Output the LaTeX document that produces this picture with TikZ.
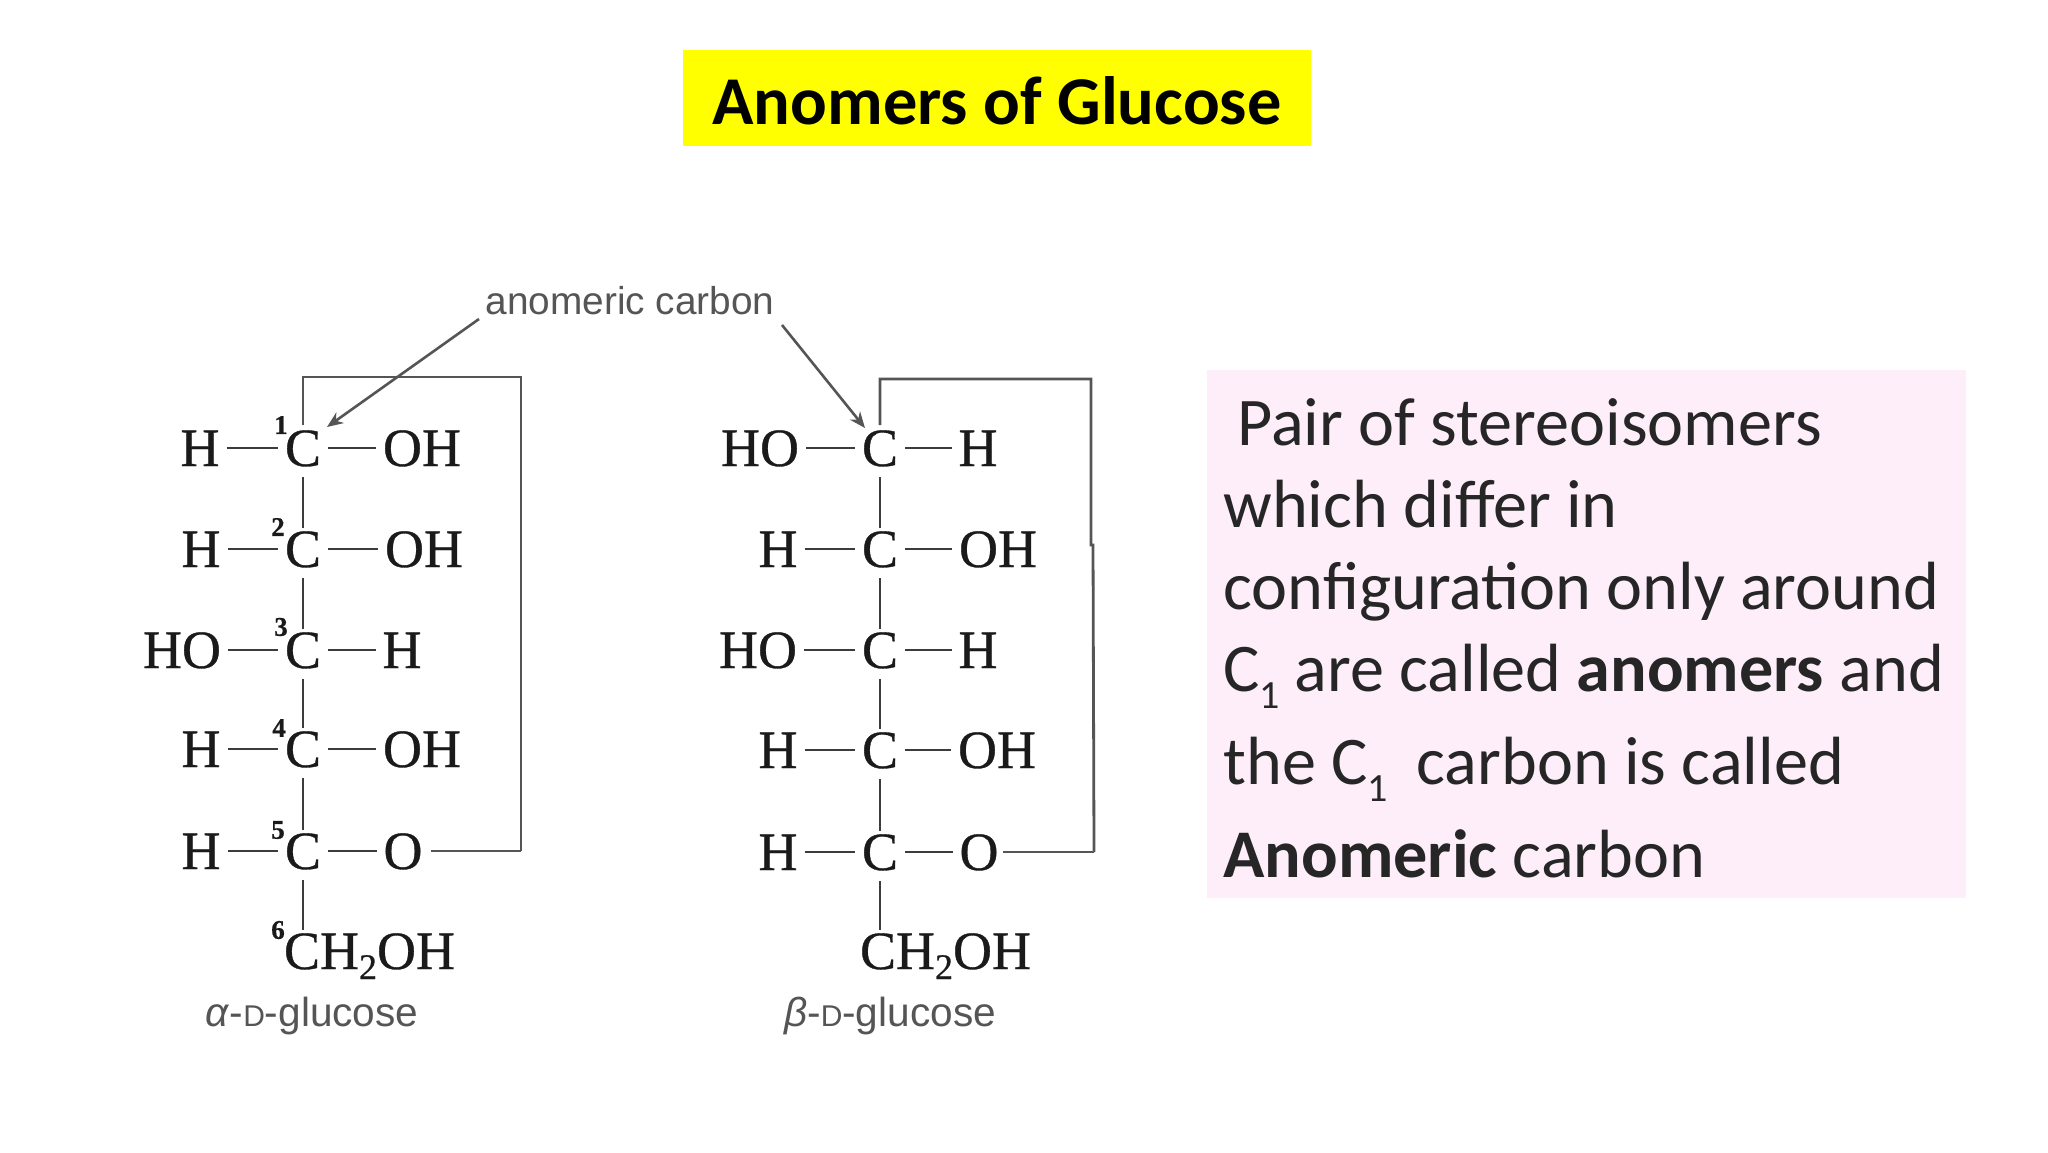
\documentclass[tikz,border=0pt]{standalone}
\usepackage{fontspec}
\setmainfont{Carlito}
\newfontfamily\chemfont[RawFeature={embolden=0.6}]{Liberation Serif}
\newfontfamily\labelfont{Liberation Sans}
\usetikzlibrary{arrows.meta}
\definecolor{ink}{HTML}{1A1A1A}
\definecolor{bondcol}{HTML}{3C3C3C}
\definecolor{ringcol}{HTML}{555555}
\definecolor{labelcol}{HTML}{555555}
\definecolor{bodycol}{HTML}{262626}
\definecolor{panel}{HTML}{FDEEFA}
\definecolor{titlebg}{HTML}{FFFF00}
\tikzset{
  atom/.style={font=\chemfont\fontsize{27pt}{27pt}\selectfont,text=ink,inner sep=0pt,outer sep=0pt,text height=18pt,text depth=0pt,anchor=center},
  cnum/.style={font=\chemfont\bfseries\fontsize{13.5pt}{13.5pt}\selectfont,text=ink,inner sep=0pt,anchor=center},
  hbond/.style={draw=bondcol,line width=1.3pt,shorten <=3.5pt,shorten >=3.5pt},
  vbond/.style={draw=bondcol,line width=1.3pt,shorten <=5.5pt,shorten >=1.5pt},
  ring/.style={draw=ringcol,line width=1.4pt,line join=miter},
  lead/.style={draw=ringcol,line width=1.3pt,-{Stealth[length=8pt,width=6.5pt]}},
  grey/.style={font=\labelfont\fontsize{19.4pt}{20pt}\selectfont,text=labelcol,inner sep=0pt,anchor=center},
  sugar/.style={font=\labelfont\fontsize{20.3pt}{20pt}\selectfont,text=labelcol,inner sep=0pt,anchor=center},
  body/.style={font=\fontsize{34.1pt}{34pt}\selectfont,text=bodycol,inner sep=0pt,anchor=base west},
}
\newcommand{\subone}{\raisebox{-8.5pt}{\fontsize{20pt}{20pt}\selectfont 1}}
\newcommand{\subtwo}{\raisebox{-5pt}{\fontsize{18pt}{18pt}\selectfont 2}}
\begin{document}
\begin{tikzpicture}[x=0.5pt,y=-0.5pt]
\fill[white] (0,0) rectangle (2048,1152);
\useasboundingbox (0,0) rectangle (2048,1152);
% title
\node[fill=titlebg,minimum width=314pt,minimum height=48pt,inner sep=0pt,text height=26pt,text depth=0pt,font=\bfseries\fontsize{34.2pt}{34pt}\selectfont,text=black] (title) at (997,98) {Anomers of Glucose};
% panel
\node[fill=panel,minimum width=379.5pt,minimum height=264pt,inner sep=0pt] (panel) at (1586.5,633.5) {};
\node[body] (l1) at (1237,445) {Pair of stereoisomers};
\node[body] (l2) at (1223,527) {which differ in};
\node[body] (l3) at (1223,609) {configuration only around};
\node[body] (l4) at (1223,691) {C\subone{}\hspace{-0.5pt} are called \textbf{anomers} and};
\node[body] (l5) at (1223,784) {the C\subone{}\hspace{6.5pt} carbon is called};
\node[body] (l6) at (1223,877) {\textbf{Anomeric} carbon};
% label on top
\node[grey] (anom) at (630,301) {anomeric carbon};
\coordinate (leadA) at (479,319);
\coordinate (leadB) at (782,325);
% alpha
\node[atom] (c1) at (303,448) {C};
\node[atom] (c2) at (303,549) {C};
\node[atom] (c3) at (303,650) {C};
\node[atom] (c4) at (303,749) {C};
\node[atom] (c5) at (303,851) {C};
\node[atom] (la) at (200,448) {H};
\node[atom] (lb) at (201,549) {H};
\node[atom] (lc) at (182,650) {HO};
\node[atom] (ld) at (201,749) {H};
\node[atom] (le) at (201,851) {H};
\node[atom] (ra) at (422,448) {OH};
\node[atom] (rb) at (424,549) {OH};
\node[atom] (rc) at (402,650) {H};
\node[atom] (rd) at (422,749) {OH};
\node[atom] (re) at (403,851) {O};
\node[atom,anchor=west] (ch) at (284,951) {CH\subtwo{}OH};
\node[cnum] (n1) at (281,425) {1};
\node[cnum] (n2) at (278,527) {2};
\node[cnum] (n3) at (281,627) {3};
\node[cnum] (n4) at (279,728) {4};
\node[cnum] (n5) at (278,830) {5};
\node[cnum] (n6) at (278,930) {6};
\node[sugar] (alab) at (312,1016) {\textit{α}-{\fontsize{15pt}{15pt}\selectfont D}-glucose};
\foreach \a/\b in {la/c1,lb/c2,lc/c3,ld/c4,le/c5,c1/ra,c2/rb,c3/rc,c4/rd,c5/re}
  \draw[hbond] (\a) -- (\b);
\foreach \a/\b in {c1/c2,c2/c3,c3/c4,c4/c5}
  \draw[vbond] (\a.south) -- (\b.north);
\draw[vbond] (c5.south) -- (c5.south |- ch.north);
\coordinate (ringA) at (521,377);
\coordinate (ringB) at (521,851);
\draw[ring,shorten <=2.5pt] (c1.north) |- (ringA) -- (ringB);
\draw[ring,shorten >=4pt] (ringB) -- (re);
\draw[lead] (leadA) -- ([shift={(6,-3)}]c1.north east);
% beta
\node[atom] (d1) at (880,448) {C};
\node[atom] (d2) at (880,549) {C};
\node[atom] (d3) at (880,650) {C};
\node[atom] (d4) at (880,750) {C};
\node[atom] (d5) at (880,852) {C};
\node[atom] (sa) at (760,448) {HO};
\node[atom] (sb) at (778,549) {H};
\node[atom] (sc) at (758,650) {HO};
\node[atom] (sd) at (778,750) {H};
\node[atom] (se) at (778,852) {H};
\node[atom] (ta) at (978,448) {H};
\node[atom] (tb) at (998,549) {OH};
\node[atom] (tc) at (978,650) {H};
\node[atom] (td) at (997,750) {OH};
\node[atom] (te) at (979,852) {O};
\node[atom,anchor=west] (dh) at (860,951) {CH\subtwo{}OH};
\node[sugar] (blab) at (890,1016) {\textit{β}-{\fontsize{15pt}{15pt}\selectfont D}-glucose};
\foreach \a/\b in {sa/d1,sb/d2,sc/d3,sd/d4,se/d5,d1/ta,d2/tb,d3/tc,d4/td,d5/te}
  \draw[hbond] (\a) -- (\b);
\foreach \a/\b in {d1/d2,d2/d3,d3/d4,d4/d5}
  \draw[vbond] (\a.south) -- (\b.north);
\draw[vbond] (d5.south) -- (d5.south |- dh.north);
\coordinate (ringC) at (1091,379);
\coordinate (ringD) at (1091,545);
\coordinate (ringE) at (1093,545);
\coordinate (ringF) at (1094,852);
\draw[ring,shorten <=2.5pt] (d1.north) |- (ringC) -- (ringD) -- (ringE) -- (ringF);
\draw[ring,shorten >=2pt] (ringF) -- (te);
\draw[lead] (leadB) -- ([shift={(3,-2)}]d1.north west);
\end{tikzpicture}
\end{document}
